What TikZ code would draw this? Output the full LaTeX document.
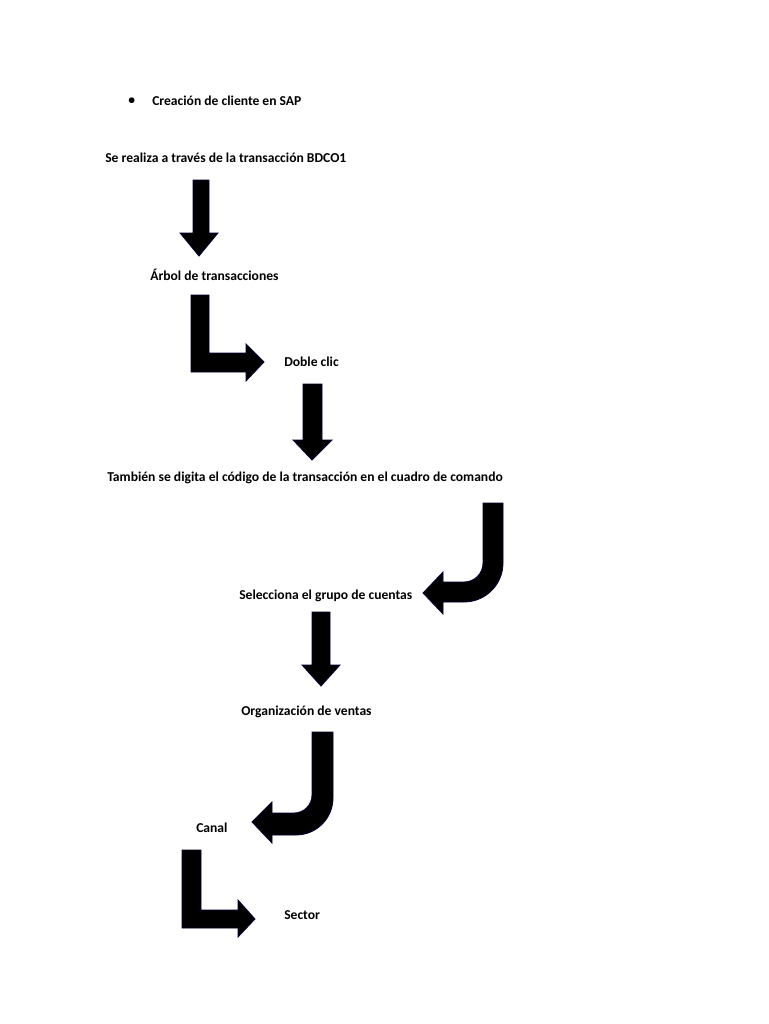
\documentclass[tikz,border=0pt]{standalone}
\usepackage{fontspec}
\setmainfont{Carlito}
\begin{document}
\begin{tikzpicture}[x=0.75pt,y=-0.75pt,
  lbl/.style={anchor=west,inner sep=0pt,font=\bfseries\fontsize{10.2}{12}\selectfont},
  blk/.style={fill=black,draw=black!80!blue,line width=0.6pt,line join=miter}]
\useasboundingbox (0,0) rectangle (768,1024);
\node[lbl] (b) at (128,101) {\textbullet};
\node[lbl] (t0) at (152,101) {Creación de cliente en SAP};
\node[lbl] (t1) at (105,158) {Se realiza a través de la transacción BDCO1};
\node[lbl] (t2) at (150,275) {Árbol de transacciones};
\node[lbl] (t3) at (284,362) {Doble clic};
\node[lbl] (t4) at (107,478) {También se digita el código de la transacción en el cuadro de comando};
\node[lbl] (t5) at (239,596) {Selecciona el grupo de cuentas};
\node[lbl] (t6) at (241,712) {Organización de ventas};
\node[lbl] (t7) at (196,828) {Canal};
\node[lbl] (t8) at (284,915) {Sector};
% down arrows
\draw[blk] (193,180) -- (209,180) -- (209,233) -- (218,233) -- (199,256) -- (180,233) -- (193,233) -- cycle;
\draw[blk] (303,384) -- (322,384) -- (322,440) -- (332,440) -- (312,460) -- (293,440) -- (303,440) -- cycle;
\draw[blk] (312,612) -- (330,612) -- (330,665) -- (340,665) -- (321,686) -- (302,665) -- (312,665) -- cycle;
% L arrows
\draw[blk] (191,295) -- (209,295) -- (209,353) -- (246,353) -- (246,344) -- (264,362) -- (246,381) -- (246,372) -- (191,372) -- cycle;
\draw[blk] (182,850) -- (201,850) -- (201,910) -- (238,910) -- (238,900) -- (255,919) -- (238,937) -- (238,928) -- (182,928) -- cycle;
% J arrows
\draw[blk] (483,503) -- (503,503) -- (503,563) arc[start angle=0,end angle=90,radius=39] -- (443,602) -- (443,614) -- (423,593) -- (443,572) -- (443,582) -- (464,582) arc[start angle=90,end angle=0,radius=19] -- cycle;
\draw[blk] (312,732) -- (333,732) -- (333,798) arc[start angle=0,end angle=90,radius=37] -- (272,835) -- (272,843) -- (252,822) -- (272,802) -- (272,813) -- (294,813) arc[start angle=90,end angle=0,radius=18] -- cycle;
\end{tikzpicture}
\end{document}
